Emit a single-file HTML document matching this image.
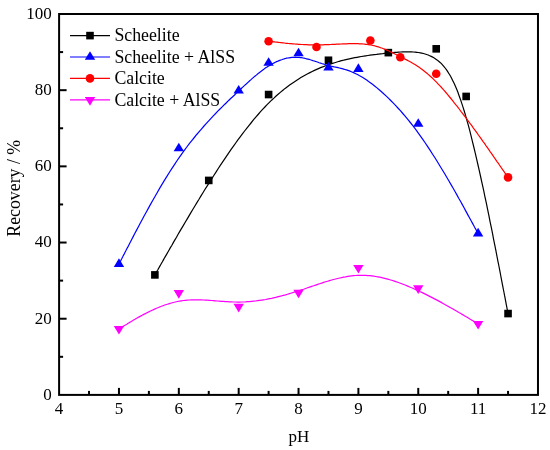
<!DOCTYPE html>
<html><head><meta charset="utf-8"><style>
html,body{margin:0;padding:0;background:#fff;}
svg{display:block;}
.t{font-family:"Liberation Serif","Times New Roman",serif;font-size:17px;fill:#000;}
.lg{font-size:17.8px;}
.yt{font-size:17.8px;}
</style></head><body>
<svg width="550" height="450" viewBox="0 0 550 450">
<path d="M154.9,274.9 L154.9,274.9 L154.9,274.9 L154.9,274.9 L154.9,274.8 L154.9,274.8 L155.0,274.7 L155.0,274.6 L155.1,274.5 L155.2,274.3 L155.4,274.1 L155.5,273.8 L155.7,273.4 L155.9,273.0 L156.2,272.6 L156.5,272.1 L156.8,271.5 L157.2,270.8 L157.7,270.0 L158.2,269.1 L158.7,268.2 L159.3,267.1 L160.0,265.9 L160.7,264.7 L161.5,263.3 L162.4,261.8 L163.3,260.1 L164.3,258.3 L165.4,256.4 L166.6,254.4 L167.8,252.3 L169.1,250.0 L170.4,247.6 L171.9,245.2 L173.3,242.6 L174.9,239.9 L176.5,237.2 L178.1,234.3 L179.8,231.4 L181.6,228.4 L183.4,225.4 L185.2,222.2 L187.1,219.1 L189.0,215.9 L190.9,212.6 L192.9,209.3 L194.9,206.0 L196.9,202.6 L199.0,199.3 L201.0,195.9 L203.1,192.5 L205.2,189.0 L207.4,185.6 L209.5,182.2 L211.7,178.8 L213.8,175.5 L216.0,172.1 L218.1,168.8 L220.3,165.4 L222.5,162.2 L224.7,158.9 L226.9,155.6 L229.1,152.4 L231.3,149.2 L233.5,146.1 L235.7,143.0 L237.9,139.9 L240.2,136.9 L242.4,133.9 L244.6,131.0 L246.9,128.1 L249.1,125.3 L251.4,122.5 L253.6,119.7 L255.8,117.1 L258.1,114.5 L260.3,111.9 L262.6,109.4 L264.9,107.0 L267.1,104.7 L269.4,102.4 L271.6,100.2 L273.9,98.1 L276.1,96.0 L278.4,94.0 L280.6,92.1 L282.9,90.2 L285.1,88.4 L287.4,86.7 L289.6,85.0 L291.9,83.4 L294.2,81.9 L296.4,80.4 L298.7,79.0 L300.9,77.6 L303.2,76.2 L305.4,75.0 L307.7,73.8 L309.9,72.6 L312.2,71.5 L314.4,70.4 L316.7,69.4 L319.0,68.4 L321.2,67.4 L323.5,66.6 L325.7,65.7 L328.0,64.9 L330.2,64.1 L332.5,63.4 L334.7,62.7 L337.0,62.0 L339.2,61.3 L341.5,60.7 L343.7,60.2 L346.0,59.6 L348.2,59.1 L350.4,58.6 L352.6,58.1 L354.8,57.7 L357.1,57.3 L359.2,56.9 L361.4,56.5 L363.6,56.2 L365.8,55.8 L367.9,55.5 L370.1,55.2 L372.2,54.9 L374.4,54.6 L376.5,54.4 L378.6,54.1 L380.6,53.9 L382.7,53.7 L384.8,53.4 L386.8,53.2 L388.8,53.0 L390.8,52.8 L392.8,52.6 L394.7,52.4 L396.7,52.3 L398.6,52.1 L400.5,52.0 L402.4,51.9 L404.3,51.9 L406.1,51.8 L408.0,51.8 L409.8,51.8 L411.6,51.9 L413.3,52.0 L415.1,52.1 L416.8,52.3 L418.5,52.5 L420.2,52.8 L421.8,53.1 L423.4,53.5 L425.1,54.0 L426.6,54.5 L428.2,55.0 L429.7,55.7 L431.2,56.4 L432.7,57.1 L434.2,58.0 L435.6,58.9 L437.0,59.9 L438.4,61.0 L439.8,62.2 L441.2,63.4 L442.5,64.8 L443.8,66.3 L445.1,68.0 L446.4,69.7 L447.7,71.6 L449.0,73.7 L450.3,75.8 L451.6,78.2 L452.8,80.7 L454.1,83.3 L455.3,86.1 L456.6,89.1 L457.9,92.3 L459.1,95.7 L460.4,99.3 L461.7,103.1 L463.0,107.1 L464.3,111.3 L465.6,115.7 L466.9,120.4 L468.3,125.2 L469.7,130.4 L471.0,135.7 L472.4,141.3 L473.8,147.0 L475.2,152.8 L476.6,158.9 L478.0,165.0 L479.4,171.2 L480.8,177.5 L482.2,183.8 L483.6,190.2 L484.9,196.6 L486.3,202.9 L487.6,209.3 L488.9,215.6 L490.1,221.8 L491.4,227.9 L492.6,233.9 L493.7,239.8 L494.9,245.6 L496.0,251.1 L497.0,256.5 L498.0,261.6 L499.0,266.5 L499.9,271.2 L500.7,275.5 L501.5,279.6 L502.2,283.4 L502.9,286.8 L503.5,290.0 L504.1,293.0 L504.6,295.7 L505.1,298.1 L505.5,300.3 L505.9,302.3 L506.2,304.1 L506.5,305.6 L506.8,307.0 L507.0,308.3 L507.2,309.3 L507.4,310.2 L507.6,311.0 L507.7,311.6 L507.8,312.1 L507.9,312.6 L507.9,312.9 L508.0,313.1 L508.0,313.3 L508.0,313.4 L508.0,313.5 L508.0,313.5 L508.0,313.6 L508.1,313.6" fill="none" stroke="#000" stroke-width="1.2"/>
<rect x="151.08" y="271.10" width="7.6" height="7.6" fill="#000"/>
<rect x="204.95" y="176.63" width="7.6" height="7.6" fill="#000"/>
<rect x="264.81" y="90.74" width="7.6" height="7.6" fill="#000"/>
<rect x="324.67" y="56.46" width="7.6" height="7.6" fill="#000"/>
<rect x="384.53" y="48.84" width="7.6" height="7.6" fill="#000"/>
<rect x="432.42" y="45.03" width="7.6" height="7.6" fill="#000"/>
<rect x="462.35" y="92.64" width="7.6" height="7.6" fill="#000"/>
<rect x="504.25" y="309.76" width="7.6" height="7.6" fill="#000"/>
<path d="M119.0,264.0 L119.0,264.0 L119.0,264.0 L119.0,264.0 L119.0,263.9 L119.1,263.9 L119.1,263.7 L119.2,263.6 L119.3,263.3 L119.5,263.0 L119.7,262.6 L119.9,262.2 L120.2,261.6 L120.6,260.9 L121.0,260.2 L121.4,259.3 L122.0,258.3 L122.6,257.1 L123.2,255.8 L124.0,254.4 L124.8,252.7 L125.7,251.0 L126.7,249.0 L127.9,246.9 L129.1,244.5 L130.4,242.0 L131.8,239.3 L133.3,236.4 L134.9,233.3 L136.6,230.1 L138.4,226.7 L140.2,223.3 L142.1,219.7 L144.1,216.0 L146.2,212.2 L148.3,208.4 L150.5,204.4 L152.7,200.5 L155.0,196.5 L157.3,192.5 L159.6,188.4 L162.0,184.4 L164.4,180.4 L166.9,176.4 L169.3,172.5 L171.8,168.6 L174.3,164.8 L176.8,161.0 L179.3,157.4 L181.8,153.8 L184.3,150.4 L186.8,147.0 L189.3,143.7 L191.8,140.6 L194.3,137.5 L196.7,134.5 L199.2,131.6 L201.6,128.8 L204.0,126.0 L206.4,123.4 L208.7,120.8 L211.0,118.3 L213.3,115.8 L215.6,113.5 L217.8,111.2 L220.0,109.0 L222.2,106.8 L224.3,104.7 L226.4,102.7 L228.4,100.7 L230.4,98.8 L232.4,97.0 L234.3,95.2 L236.1,93.4 L237.9,91.7 L239.6,90.1 L241.3,88.5 L243.0,86.9 L244.6,85.4 L246.2,84.0 L247.7,82.6 L249.2,81.2 L250.7,79.9 L252.1,78.6 L253.5,77.4 L254.9,76.2 L256.3,75.1 L257.6,74.0 L258.9,72.9 L260.2,71.9 L261.5,70.9 L262.8,69.9 L264.1,69.0 L265.3,68.1 L266.6,67.3 L267.9,66.4 L269.1,65.7 L270.4,64.9 L271.6,64.2 L272.9,63.5 L274.1,62.9 L275.4,62.2 L276.6,61.6 L277.9,61.1 L279.1,60.6 L280.4,60.1 L281.6,59.7 L282.9,59.2 L284.1,58.9 L285.4,58.5 L286.6,58.2 L287.9,58.0 L289.1,57.8 L290.4,57.6 L291.7,57.4 L292.9,57.3 L294.2,57.3 L295.4,57.2 L296.7,57.3 L297.9,57.3 L299.2,57.4 L300.4,57.6 L301.7,57.7 L302.9,58.0 L304.2,58.2 L305.4,58.5 L306.7,58.8 L307.9,59.1 L309.2,59.4 L310.4,59.8 L311.7,60.2 L312.9,60.6 L314.2,61.0 L315.4,61.4 L316.7,61.8 L318.0,62.2 L319.2,62.7 L320.5,63.1 L321.7,63.5 L323.0,63.9 L324.2,64.3 L325.5,64.7 L326.7,65.0 L328.0,65.4 L329.2,65.7 L330.5,66.0 L331.7,66.3 L333.0,66.6 L334.3,66.9 L335.5,67.1 L336.8,67.4 L338.1,67.7 L339.5,68.0 L340.8,68.3 L342.2,68.7 L343.6,69.1 L345.0,69.5 L346.4,69.9 L347.9,70.4 L349.4,70.9 L350.9,71.5 L352.5,72.2 L354.1,72.9 L355.8,73.7 L357.5,74.5 L359.2,75.5 L361.0,76.5 L362.8,77.6 L364.7,78.8 L366.7,80.1 L368.6,81.5 L370.7,82.9 L372.8,84.5 L374.9,86.2 L377.0,87.9 L379.2,89.8 L381.5,91.7 L383.7,93.8 L386.0,95.9 L388.4,98.1 L390.7,100.5 L393.1,102.9 L395.5,105.4 L397.9,108.0 L400.4,110.7 L402.8,113.5 L405.3,116.4 L407.8,119.4 L410.3,122.5 L412.8,125.7 L415.3,128.9 L417.8,132.3 L420.3,135.8 L422.8,139.4 L425.3,143.0 L427.7,146.7 L430.2,150.4 L432.6,154.2 L435.1,158.0 L437.4,161.8 L439.8,165.7 L442.1,169.5 L444.4,173.3 L446.6,177.0 L448.8,180.7 L450.9,184.4 L453.0,188.0 L455.0,191.5 L456.9,194.9 L458.7,198.2 L460.5,201.3 L462.2,204.4 L463.8,207.3 L465.3,210.1 L466.7,212.6 L468.0,215.1 L469.2,217.3 L470.3,219.3 L471.4,221.2 L472.3,222.9 L473.1,224.4 L473.9,225.8 L474.5,227.0 L475.1,228.1 L475.7,229.0 L476.1,229.9 L476.5,230.6 L476.9,231.3 L477.1,231.8 L477.4,232.2 L477.6,232.6 L477.7,232.9 L477.9,233.1 L478.0,233.3 L478.0,233.4 L478.1,233.5 L478.1,233.5 L478.1,233.6 L478.1,233.6 L478.1,233.6" fill="none" stroke="#0000ff" stroke-width="1.2"/>
<path d="M118.96,258.31 L124.16,266.91 L113.76,266.91Z" fill="#0000ff"/>
<path d="M178.82,142.70 L184.02,151.30 L173.62,151.30Z" fill="#0000ff"/>
<path d="M238.68,85.00 L243.88,93.60 L233.48,93.60Z" fill="#0000ff"/>
<path d="M268.61,57.19 L273.81,65.79 L263.41,65.79Z" fill="#0000ff"/>
<path d="M298.54,47.67 L303.74,56.27 L293.34,56.27Z" fill="#0000ff"/>
<path d="M328.47,61.95 L333.67,70.55 L323.27,70.55Z" fill="#0000ff"/>
<path d="M358.40,63.29 L363.60,71.89 L353.20,71.89Z" fill="#0000ff"/>
<path d="M418.26,118.13 L423.46,126.73 L413.06,126.73Z" fill="#0000ff"/>
<path d="M478.12,227.83 L483.32,236.43 L472.92,236.43Z" fill="#0000ff"/>
<path d="M268.6,41.2 L268.6,41.2 L268.6,41.2 L268.6,41.2 L268.6,41.2 L268.6,41.2 L268.7,41.2 L268.7,41.2 L268.7,41.2 L268.8,41.2 L268.8,41.2 L268.9,41.2 L269.0,41.3 L269.1,41.3 L269.2,41.3 L269.3,41.3 L269.4,41.3 L269.6,41.3 L269.8,41.4 L270.0,41.4 L270.2,41.4 L270.5,41.4 L270.7,41.5 L271.0,41.5 L271.4,41.5 L271.7,41.6 L272.1,41.6 L272.6,41.7 L273.0,41.7 L273.5,41.8 L274.0,41.9 L274.6,41.9 L275.2,42.0 L275.8,42.1 L276.5,42.2 L277.2,42.2 L278.0,42.3 L278.8,42.4 L279.6,42.5 L280.5,42.6 L281.4,42.7 L282.3,42.8 L283.3,42.9 L284.3,43.0 L285.3,43.2 L286.4,43.3 L287.5,43.4 L288.6,43.5 L289.8,43.6 L291.0,43.7 L292.2,43.8 L293.4,43.9 L294.7,44.0 L295.9,44.1 L297.2,44.2 L298.6,44.3 L299.9,44.4 L301.3,44.5 L302.6,44.5 L304.0,44.6 L305.4,44.7 L306.8,44.7 L308.3,44.8 L309.7,44.8 L311.2,44.9 L312.6,44.9 L314.1,44.9 L315.6,44.9 L317.1,44.9 L318.6,44.9 L320.1,44.9 L321.6,44.8 L323.1,44.8 L324.6,44.7 L326.1,44.7 L327.6,44.6 L329.1,44.6 L330.6,44.5 L332.1,44.4 L333.6,44.4 L335.1,44.3 L336.6,44.2 L338.1,44.1 L339.6,44.1 L341.1,44.0 L342.5,43.9 L344.0,43.9 L345.5,43.8 L346.9,43.8 L348.4,43.7 L349.8,43.7 L351.2,43.7 L352.6,43.7 L354.0,43.7 L355.4,43.7 L356.7,43.7 L358.1,43.7 L359.4,43.8 L360.8,43.8 L362.1,43.9 L363.3,44.0 L364.6,44.1 L365.9,44.3 L367.1,44.4 L368.3,44.6 L369.5,44.8 L370.6,45.0 L371.8,45.2 L372.9,45.5 L374.0,45.7 L375.1,46.0 L376.2,46.3 L377.3,46.6 L378.4,46.9 L379.4,47.2 L380.4,47.6 L381.5,48.0 L382.5,48.3 L383.5,48.7 L384.5,49.1 L385.5,49.5 L386.4,49.9 L387.4,50.4 L388.4,50.8 L389.3,51.2 L390.3,51.7 L391.2,52.1 L392.2,52.6 L393.1,53.1 L394.1,53.5 L395.0,54.0 L396.0,54.5 L396.9,55.0 L397.9,55.4 L398.8,55.9 L399.8,56.4 L400.7,56.9 L401.7,57.4 L402.7,57.9 L403.7,58.4 L404.6,58.9 L405.6,59.4 L406.6,59.9 L407.6,60.4 L408.7,61.0 L409.7,61.5 L410.7,62.1 L411.8,62.7 L412.8,63.3 L413.9,63.9 L415.0,64.6 L416.1,65.3 L417.2,66.0 L418.4,66.8 L419.5,67.6 L420.7,68.4 L421.9,69.3 L423.1,70.2 L424.4,71.2 L425.6,72.2 L426.9,73.3 L428.2,74.4 L429.5,75.5 L430.9,76.8 L432.3,78.0 L433.7,79.4 L435.1,80.8 L436.5,82.2 L438.0,83.8 L439.5,85.4 L441.1,87.0 L442.7,88.8 L444.3,90.6 L445.9,92.5 L447.5,94.4 L449.2,96.5 L450.9,98.5 L452.6,100.6 L454.3,102.8 L456.1,105.0 L457.8,107.2 L459.6,109.5 L461.3,111.8 L463.1,114.1 L464.8,116.4 L466.6,118.7 L468.3,121.1 L470.0,123.4 L471.8,125.7 L473.4,128.1 L475.1,130.4 L476.8,132.7 L478.4,135.0 L480.0,137.2 L481.6,139.4 L483.1,141.6 L484.7,143.7 L486.1,145.8 L487.6,147.9 L489.0,149.9 L490.3,151.8 L491.6,153.6 L492.8,155.4 L494.0,157.2 L495.2,158.8 L496.2,160.3 L497.2,161.8 L498.2,163.2 L499.1,164.5 L499.9,165.7 L500.7,166.8 L501.4,167.9 L502.1,168.8 L502.8,169.8 L503.4,170.6 L503.9,171.4 L504.4,172.1 L504.8,172.8 L505.3,173.4 L505.6,173.9 L506.0,174.4 L506.3,174.9 L506.6,175.3 L506.8,175.6 L507.0,175.9 L507.2,176.2 L507.4,176.4 L507.5,176.6 L507.6,176.8 L507.7,177.0 L507.8,177.1 L507.9,177.2 L507.9,177.2 L508.0,177.3 L508.0,177.3 L508.0,177.4 L508.0,177.4 L508.0,177.4 L508.0,177.4 L508.1,177.4" fill="none" stroke="#ff0000" stroke-width="1.2"/>
<circle cx="268.61" cy="41.21" r="4.3" fill="#ff0000"/>
<circle cx="316.50" cy="46.93" r="4.3" fill="#ff0000"/>
<circle cx="370.37" cy="40.45" r="4.3" fill="#ff0000"/>
<circle cx="400.30" cy="57.21" r="4.3" fill="#ff0000"/>
<circle cx="436.22" cy="73.78" r="4.3" fill="#ff0000"/>
<circle cx="508.05" cy="177.38" r="4.3" fill="#ff0000"/>
<path d="M119.0,328.8 L119.0,328.8 L119.0,328.8 L119.0,328.8 L119.0,328.8 L119.0,328.8 L119.0,328.7 L119.1,328.7 L119.2,328.7 L119.2,328.6 L119.3,328.6 L119.5,328.5 L119.6,328.4 L119.8,328.3 L120.0,328.2 L120.2,328.0 L120.5,327.9 L120.8,327.7 L121.1,327.5 L121.5,327.3 L122.0,327.0 L122.4,326.7 L122.9,326.4 L123.5,326.1 L124.1,325.7 L124.8,325.3 L125.5,324.9 L126.3,324.4 L127.2,323.9 L128.1,323.3 L129.1,322.7 L130.1,322.1 L131.2,321.5 L132.4,320.8 L133.6,320.0 L134.9,319.3 L136.2,318.5 L137.6,317.7 L139.1,316.9 L140.6,316.1 L142.1,315.3 L143.7,314.4 L145.3,313.6 L147.0,312.7 L148.7,311.9 L150.5,311.0 L152.2,310.2 L154.0,309.4 L155.9,308.5 L157.7,307.8 L159.6,307.0 L161.5,306.2 L163.5,305.5 L165.4,304.8 L167.4,304.2 L169.3,303.6 L171.3,303.0 L173.3,302.5 L175.3,302.0 L177.3,301.5 L179.3,301.2 L181.3,300.8 L183.3,300.5 L185.3,300.3 L187.3,300.1 L189.3,300.0 L191.3,299.9 L193.3,299.8 L195.4,299.8 L197.4,299.8 L199.4,299.8 L201.4,299.9 L203.4,300.0 L205.4,300.1 L207.4,300.2 L209.4,300.3 L211.4,300.5 L213.4,300.6 L215.4,300.8 L217.4,301.0 L219.4,301.1 L221.4,301.3 L223.4,301.4 L225.4,301.6 L227.4,301.7 L229.4,301.8 L231.4,301.9 L233.4,302.0 L235.4,302.0 L237.4,302.1 L239.4,302.1 L241.4,302.0 L243.4,302.0 L245.4,301.9 L247.4,301.7 L249.4,301.6 L251.5,301.4 L253.5,301.2 L255.5,301.0 L257.5,300.7 L259.5,300.4 L261.5,300.1 L263.5,299.8 L265.5,299.5 L267.5,299.1 L269.5,298.7 L271.5,298.3 L273.5,297.8 L275.5,297.4 L277.5,296.9 L279.5,296.4 L281.5,295.9 L283.5,295.3 L285.5,294.8 L287.5,294.2 L289.5,293.6 L291.5,293.0 L293.5,292.4 L295.5,291.8 L297.5,291.2 L299.5,290.5 L301.5,289.8 L303.5,289.2 L305.6,288.5 L307.6,287.8 L309.6,287.1 L311.6,286.4 L313.6,285.8 L315.6,285.1 L317.6,284.4 L319.6,283.7 L321.6,283.1 L323.6,282.4 L325.6,281.8 L327.6,281.2 L329.6,280.6 L331.6,280.0 L333.6,279.5 L335.6,279.0 L337.6,278.5 L339.6,278.0 L341.6,277.6 L343.6,277.1 L345.6,276.8 L347.6,276.4 L349.6,276.1 L351.6,275.9 L353.6,275.7 L355.6,275.5 L357.6,275.4 L359.7,275.3 L361.7,275.3 L363.7,275.3 L365.7,275.4 L367.7,275.6 L369.7,275.7 L371.7,275.9 L373.7,276.2 L375.7,276.5 L377.7,276.8 L379.7,277.2 L381.7,277.6 L383.7,278.1 L385.7,278.6 L387.7,279.1 L389.7,279.7 L391.7,280.3 L393.7,280.9 L395.7,281.6 L397.7,282.3 L399.7,283.0 L401.7,283.7 L403.7,284.5 L405.7,285.3 L407.7,286.1 L409.7,287.0 L411.7,287.8 L413.8,288.7 L415.8,289.6 L417.8,290.5 L419.8,291.5 L421.8,292.4 L423.8,293.4 L425.8,294.4 L427.7,295.4 L429.7,296.4 L431.7,297.4 L433.6,298.4 L435.5,299.4 L437.4,300.4 L439.3,301.4 L441.2,302.4 L443.0,303.4 L444.8,304.4 L446.6,305.4 L448.4,306.4 L450.1,307.4 L451.7,308.3 L453.4,309.2 L455.0,310.2 L456.5,311.0 L458.0,311.9 L459.4,312.8 L460.8,313.6 L462.2,314.4 L463.5,315.1 L464.7,315.9 L465.9,316.6 L467.0,317.2 L468.0,317.8 L469.0,318.4 L469.9,319.0 L470.8,319.5 L471.5,319.9 L472.3,320.4 L472.9,320.8 L473.6,321.1 L474.1,321.5 L474.7,321.8 L475.1,322.1 L475.6,322.3 L475.9,322.5 L476.3,322.7 L476.6,322.9 L476.9,323.1 L477.1,323.2 L477.3,323.4 L477.5,323.5 L477.6,323.5 L477.7,323.6 L477.8,323.7 L477.9,323.7 L478.0,323.8 L478.0,323.8 L478.1,323.8 L478.1,323.8 L478.1,323.8 L478.1,323.8 L478.1,323.8 L478.1,323.8" fill="none" stroke="#ff00ff" stroke-width="1.2"/>
<path d="M118.96,334.53 L124.16,325.93 L113.76,325.93Z" fill="#ff00ff"/>
<path d="M178.82,298.72 L184.02,290.12 L173.62,290.12Z" fill="#ff00ff"/>
<path d="M238.68,312.43 L243.88,303.83 L233.48,303.83Z" fill="#ff00ff"/>
<path d="M298.54,298.34 L303.74,289.74 L293.34,289.74Z" fill="#ff00ff"/>
<path d="M358.40,273.58 L363.60,264.98 L353.20,264.98Z" fill="#ff00ff"/>
<path d="M418.26,293.96 L423.46,285.36 L413.06,285.36Z" fill="#ff00ff"/>
<path d="M478.12,329.57 L483.32,320.97 L472.92,320.97Z" fill="#ff00ff"/>
<rect x="59.10" y="14.00" width="478.88" height="380.90" fill="none" stroke="#000" stroke-width="2"/>
<text x="59.10" y="414.40" text-anchor="middle" class="t">4</text>
<line x1="89.03" y1="394.90" x2="89.03" y2="390.90" stroke="#000" stroke-width="2"/>
<line x1="118.96" y1="394.90" x2="118.96" y2="387.90" stroke="#000" stroke-width="2"/>
<text x="118.96" y="414.40" text-anchor="middle" class="t">5</text>
<line x1="148.89" y1="394.90" x2="148.89" y2="390.90" stroke="#000" stroke-width="2"/>
<line x1="178.82" y1="394.90" x2="178.82" y2="387.90" stroke="#000" stroke-width="2"/>
<text x="178.82" y="414.40" text-anchor="middle" class="t">6</text>
<line x1="208.75" y1="394.90" x2="208.75" y2="390.90" stroke="#000" stroke-width="2"/>
<line x1="238.68" y1="394.90" x2="238.68" y2="387.90" stroke="#000" stroke-width="2"/>
<text x="238.68" y="414.40" text-anchor="middle" class="t">7</text>
<line x1="268.61" y1="394.90" x2="268.61" y2="390.90" stroke="#000" stroke-width="2"/>
<line x1="298.54" y1="394.90" x2="298.54" y2="387.90" stroke="#000" stroke-width="2"/>
<text x="298.54" y="414.40" text-anchor="middle" class="t">8</text>
<line x1="328.47" y1="394.90" x2="328.47" y2="390.90" stroke="#000" stroke-width="2"/>
<line x1="358.40" y1="394.90" x2="358.40" y2="387.90" stroke="#000" stroke-width="2"/>
<text x="358.40" y="414.40" text-anchor="middle" class="t">9</text>
<line x1="388.33" y1="394.90" x2="388.33" y2="390.90" stroke="#000" stroke-width="2"/>
<line x1="418.26" y1="394.90" x2="418.26" y2="387.90" stroke="#000" stroke-width="2"/>
<text x="418.26" y="414.40" text-anchor="middle" class="t">10</text>
<line x1="448.19" y1="394.90" x2="448.19" y2="390.90" stroke="#000" stroke-width="2"/>
<line x1="478.12" y1="394.90" x2="478.12" y2="387.90" stroke="#000" stroke-width="2"/>
<text x="478.12" y="414.40" text-anchor="middle" class="t">11</text>
<line x1="508.05" y1="394.90" x2="508.05" y2="390.90" stroke="#000" stroke-width="2"/>
<text x="537.98" y="414.40" text-anchor="middle" class="t">12</text>
<text x="51.70" y="399.70" text-anchor="end" class="t">0</text>
<line x1="59.10" y1="356.81" x2="63.10" y2="356.81" stroke="#000" stroke-width="2"/>
<line x1="59.10" y1="318.72" x2="66.60" y2="318.72" stroke="#000" stroke-width="2"/>
<text x="51.70" y="323.52" text-anchor="end" class="t">20</text>
<line x1="59.10" y1="280.63" x2="63.10" y2="280.63" stroke="#000" stroke-width="2"/>
<line x1="59.10" y1="242.54" x2="66.60" y2="242.54" stroke="#000" stroke-width="2"/>
<text x="51.70" y="247.34" text-anchor="end" class="t">40</text>
<line x1="59.10" y1="204.45" x2="63.10" y2="204.45" stroke="#000" stroke-width="2"/>
<line x1="59.10" y1="166.36" x2="66.60" y2="166.36" stroke="#000" stroke-width="2"/>
<text x="51.70" y="171.16" text-anchor="end" class="t">60</text>
<line x1="59.10" y1="128.27" x2="63.10" y2="128.27" stroke="#000" stroke-width="2"/>
<line x1="59.10" y1="90.18" x2="66.60" y2="90.18" stroke="#000" stroke-width="2"/>
<text x="51.70" y="94.98" text-anchor="end" class="t">80</text>
<line x1="59.10" y1="52.09" x2="63.10" y2="52.09" stroke="#000" stroke-width="2"/>
<text x="51.70" y="18.80" text-anchor="end" class="t">100</text>
<line x1="70" y1="35.6" x2="110" y2="35.6" stroke="#000" stroke-width="1.2"/>
<rect x="86.20" y="31.80" width="7.6" height="7.6" fill="#000"/>
<text x="114.4" y="41.40" class="t lg">Scheelite</text>
<line x1="70" y1="57.0" x2="110" y2="57.0" stroke="#0000ff" stroke-width="1.2"/>
<path d="M90.00,51.27 L95.20,59.87 L84.80,59.87Z" fill="#0000ff"/>
<text x="114.4" y="62.80" class="t lg">Scheelite + AlSS</text>
<line x1="70" y1="78.4" x2="110" y2="78.4" stroke="#ff0000" stroke-width="1.2"/>
<circle cx="90.00" cy="78.40" r="4.3" fill="#ff0000"/>
<text x="114.4" y="84.20" class="t lg">Calcite</text>
<line x1="70" y1="99.9" x2="110" y2="99.9" stroke="#ff00ff" stroke-width="1.2"/>
<path d="M90.00,105.63 L95.20,97.03 L84.80,97.03Z" fill="#ff00ff"/>
<text x="114.4" y="105.70" class="t lg">Calcite + AlSS</text>
<text x="299" y="442" text-anchor="middle" class="t">pH</text>
<text transform="translate(19.6,188.3) rotate(-90)" text-anchor="middle" class="t yt">Recovery / %</text>
</svg>
</body></html>
